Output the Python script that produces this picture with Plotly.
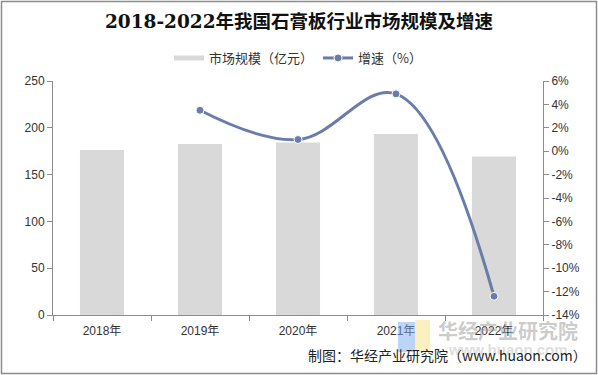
import plotly.graph_objects as go

years = ["2018年", "2019年", "2020年", "2021年", "2022年"]
market_size = [176.4, 182.6, 184.4, 193.4, 169.4]
growth_years = ["2019年", "2020年", "2021年", "2022年"]
growth = [3.5, 1.0, 4.9, -12.4]
left_ticks = [0, 50, 100, 150, 200, 250]
right_ticks = [6, 4, 2, 0, -2, -4, -6, -8, -10, -12, -14]

W, H = 598, 375
L, R, T, B = 53, 55, 81, 60

fig = go.Figure()
fig.add_trace(go.Bar(
    x=years, y=market_size, name="市场规模（亿元）", showlegend=False,
    marker=dict(color="#d9d9d9", line=dict(width=0)), width=0.45,
))
# legend swatch for the bars (thin bar-like line, as in the reference)
fig.add_trace(go.Scatter(
    x=[None], y=[None], name="市场规模（亿元）", mode="lines",
    line=dict(color="#d9d9d9", width=5),
))
fig.add_trace(go.Scatter(
    x=growth_years, y=growth, name="增速（%）", yaxis="y2",
    mode="lines+markers", line=dict(color="#6a7ca8", width=3, shape="spline", smoothing=1.1),
    marker=dict(color="#6a7ca8", size=8, line=dict(color="white", width=1)),
))

axis_font = dict(family="Liberation Sans, Arial, Noto Sans CJK SC", size=12, color="#333333")
fig.update_layout(
    width=W, height=H,
    margin=dict(l=L, r=R, t=T, b=B),
    paper_bgcolor="white", plot_bgcolor="white",
    title=dict(text="<b>2018-2022年我国石膏板行业市场规模及增速</b>",
               x=0.5, xanchor="center", y=1 - 22 / H, yanchor="middle",
               font=dict(family="DejaVu Serif, Noto Sans CJK SC", size=18.5, color="#111111")),
    legend=dict(orientation="h", x=0.5, xanchor="center", y=1 + (T - 58) / (H - T - B), yanchor="middle",
                font=dict(family="Noto Sans CJK SC", size=13, color="#333333"),
                traceorder="normal", itemwidth=30, bgcolor="rgba(0,0,0,0)"),
    showlegend=True,
    xaxis=dict(showline=True, linecolor="#8c8c8c", linewidth=1, ticks="outside", tickson="boundaries",
               ticklen=5, tickcolor="#8c8c8c", tickfont=axis_font, showgrid=False, ticklabelstandoff=5),
    yaxis=dict(range=[0, 250], tickvals=left_ticks, showline=True, linecolor="#8c8c8c", linewidth=1,
               ticks="outside", ticklen=5, tickcolor="#8c8c8c", tickfont=axis_font, showgrid=False,
               zeroline=False),
    yaxis2=dict(range=[-14, 6], tickvals=right_ticks, ticktext=[f"{v}%" for v in right_ticks],
                overlaying="y", side="right", showline=True, linecolor="#8c8c8c", linewidth=1,
                ticks="outside", ticklen=5, tickcolor="#8c8c8c", tickfont=axis_font, showgrid=False,
                zeroline=False),
)

pw, ph = W - L - R, H - T - B
def px(x): return (x - L) / pw
def py(y): return (H - B - y) / ph

# outer border
fig.add_shape(type="rect", xref="paper", yref="paper", x0=px(1.5), x1=px(W - 1.5), y0=py(1.5), y1=py(H - 1.5),
              line=dict(color="#8c8c8c", width=1.5), fillcolor="rgba(0,0,0,0)", layer="above")

# watermark logo
fig.add_shape(type="rect", xref="paper", yref="paper", x0=px(398), x1=px(415), y0=py(352), y1=py(322),
              line=dict(width=0), fillcolor="rgba(120,170,240,0.5)", layer="above")
fig.add_shape(type="rect", xref="paper", yref="paper", x0=px(415), x1=px(430), y0=py(352), y1=py(320),
              line=dict(width=0), fillcolor="rgba(250,225,130,0.5)", layer="above")
fig.add_annotation(text="<b>华经产业研究院</b>", xref="paper", yref="paper", x=px(508), y=py(330),
                   xanchor="center", yanchor="middle",
                   showarrow=False, font=dict(family="Noto Sans CJK SC", size=20, color="rgba(160,160,160,0.55)"))
fig.add_annotation(text="<b>www.huaon.com</b>", xref="paper", yref="paper", x=px(508), y=py(349),
                   xanchor="center", yanchor="middle",
                   showarrow=False, font=dict(family="Liberation Sans", size=15, color="rgba(190,190,190,0.5)"))

fig.add_annotation(text="制图：华经产业研究院（www.huaon.com）", xref="paper", yref="paper",
                   x=px(589), y=py(355), xanchor="right", yanchor="middle", showarrow=False,
                   font=dict(family="Noto Sans CJK SC", size=14, color="#222222"))

fig.write_html("out.html", config={"displayModeBar": False},
               post_script="document.body.style.margin='0';document.body.style.padding='0';")
